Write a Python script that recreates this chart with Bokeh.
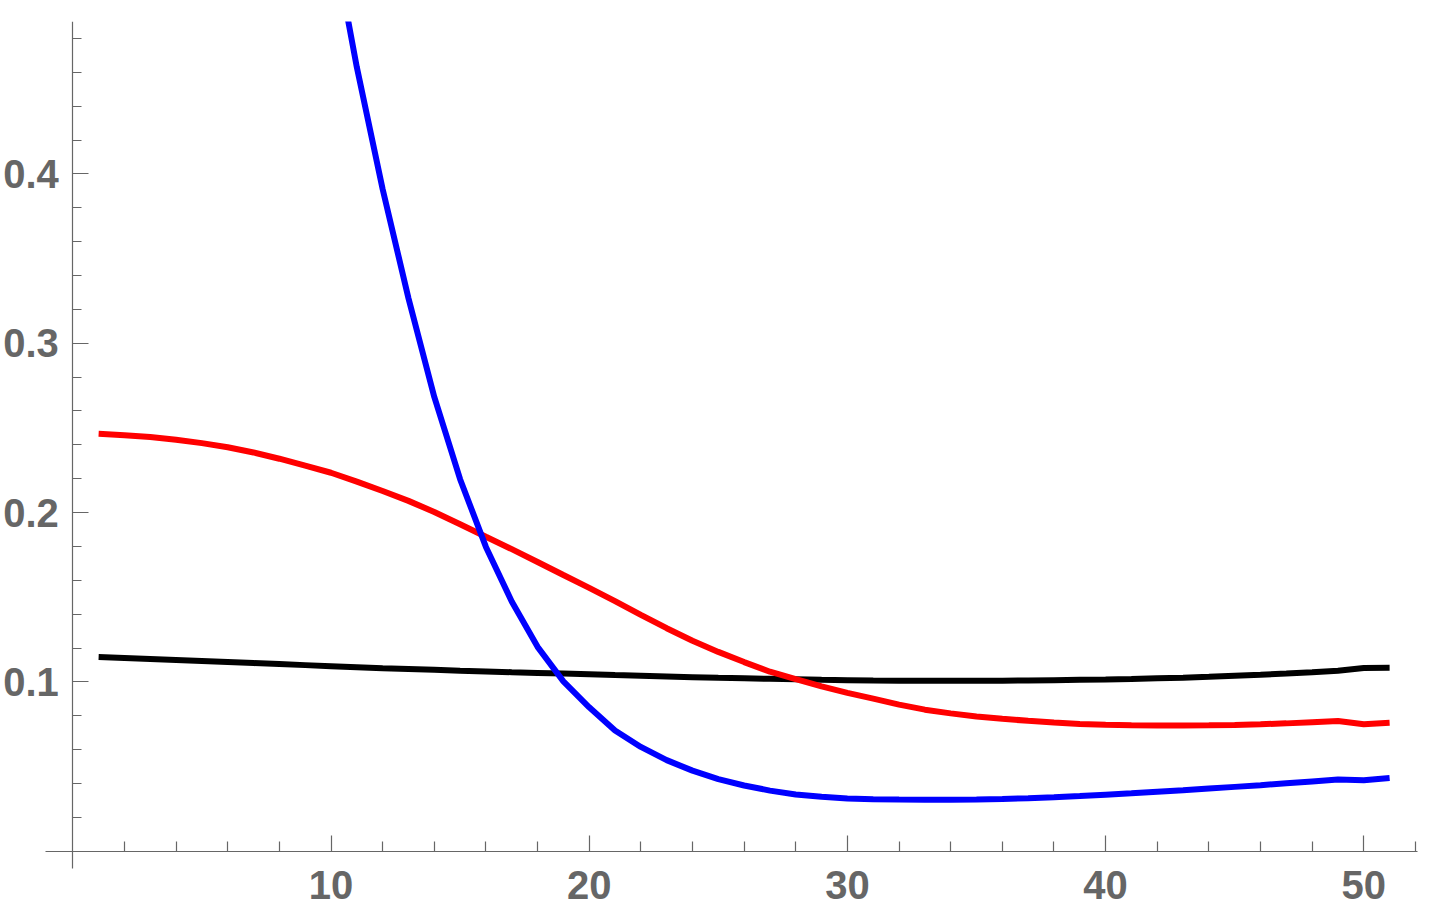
from bokeh.plotting import figure
from bokeh.models import Range1d, FixedTicker
from bokeh.embed import file_html
from bokeh.resources import INLINE

# ---- data ----
x_all = list(range(1, 52))

black_y = [0.1147, 0.1141, 0.1135, 0.1129, 0.1123, 0.1117, 0.1111, 0.1105, 0.1099, 0.1093,
           0.1087, 0.1081, 0.1076, 0.1071, 0.1066, 0.1062, 0.1057, 0.1053, 0.1049, 0.1045,
           0.1040, 0.1036, 0.1032, 0.1028, 0.1024, 0.1021, 0.1018, 0.1015, 0.1012, 0.1010,
           0.1008, 0.1007, 0.1006, 0.1006, 0.1006, 0.1007, 0.1008, 0.1010, 0.1012, 0.1014,
           0.1017, 0.1021, 0.1025, 0.1030, 0.1036, 0.1042, 0.1049, 0.1057, 0.1066, 0.1082,
           0.1083]

red_y = [0.2465, 0.2457, 0.2446, 0.2430, 0.2410, 0.2386, 0.2355, 0.2318, 0.2277, 0.2235,
         0.2183, 0.2127, 0.2069, 0.2003, 0.1931, 0.1857, 0.1784, 0.1708, 0.1631, 0.1555,
         0.1477, 0.1396, 0.1317, 0.1243, 0.1177, 0.1117, 0.1060, 0.1016, 0.0973, 0.0935,
         0.0901, 0.0866, 0.0836, 0.0814, 0.0796, 0.0782, 0.0770, 0.0760, 0.0752, 0.0747,
         0.0744, 0.0743, 0.0743, 0.0744, 0.0746, 0.0750, 0.0755, 0.0762, 0.0769, 0.0750,
         0.0758]

blue_x = list(range(10, 52))
blue_y = [0.545, 0.463, 0.391, 0.3266, 0.2683, 0.2197, 0.1797, 0.1475, 0.1207, 0.1003,
          0.0850, 0.0713, 0.0616, 0.0538, 0.0476, 0.0426, 0.0388, 0.0358, 0.0335, 0.0321,
          0.0312, 0.0307, 0.0305, 0.0304, 0.0304, 0.0305, 0.0308, 0.0313, 0.0319, 0.0326,
          0.0334, 0.0342, 0.0351, 0.0360, 0.0370, 0.0380, 0.0390, 0.0401, 0.0412, 0.0423,
          0.0419, 0.0432]

x_major = [10, 20, 30, 40, 50]
x_minor = [2, 4, 6, 8, 12, 14, 16, 18, 22, 24, 26, 28, 32, 34, 36, 38, 42, 44, 46, 48, 52]
y_major = [0.1, 0.2, 0.3, 0.4]
y_minor = [0.02, 0.04, 0.06, 0.08, 0.12, 0.14, 0.16, 0.18, 0.22, 0.24, 0.26, 0.28,
           0.32, 0.34, 0.36, 0.38, 0.42, 0.44, 0.46, 0.48]

x_axis_extent = (-1.05, 52.07)
y_axis_extent = (-0.0102, 0.490)

W, H = 1428, 906
top_border = 21
xpx = 25.82      # pixels per x unit
ypx = 1693.3     # pixels per y unit
x0_px = 72.3     # where x = 0 sits

x_start = -x0_px / xpx
x_end = x_start + W / xpx
y_end = y_axis_extent[1]
y_start = y_end - (H - top_border) / ypx

p = figure(width=W, height=H, output_backend="svg", toolbar_location=None,
           x_range=Range1d(x_start, x_end), y_range=Range1d(y_start, y_end),
           min_border_left=0, min_border_right=0, min_border_top=top_border, min_border_bottom=0)

p.grid.visible = False
p.outline_line_color = None
p.background_fill_color = "white"
p.border_fill_color = "white"

p.line(x_all, black_y, line_color="black", line_width=6)
p.line(x_all, red_y, line_color="#ff0000", line_width=6)
p.line(blue_x, blue_y, line_color="#0000ff", line_width=6)

gray = "#666666"
for ax in (p.xaxis[0], p.yaxis[0]):
    ax.fixed_location = 0
    ax.axis_line_color = gray
    ax.axis_line_width = 1.2
    ax.major_tick_line_color = gray
    ax.minor_tick_line_color = gray
    ax.major_tick_line_width = 1.2
    ax.minor_tick_line_width = 1.2
    ax.major_tick_out = 0
    ax.minor_tick_out = 0
    ax.major_tick_in = 16
    ax.major_label_text_font = "Liberation Sans"
    ax.major_label_text_font_style = "bold"
    ax.major_label_text_font_size = "40px"
    ax.major_label_text_color = gray

p.xaxis[0].bounds = x_axis_extent
p.yaxis[0].bounds = y_axis_extent
p.xaxis[0].ticker = FixedTicker(ticks=x_major, minor_ticks=x_minor)
p.yaxis[0].ticker = FixedTicker(ticks=y_major, minor_ticks=y_minor)
p.xaxis[0].minor_tick_in = 10
p.yaxis[0].minor_tick_in = 9
p.xaxis[0].major_label_standoff = 20
p.yaxis[0].major_label_standoff = 14

open("out.html", "w").write(file_html(p, INLINE))
